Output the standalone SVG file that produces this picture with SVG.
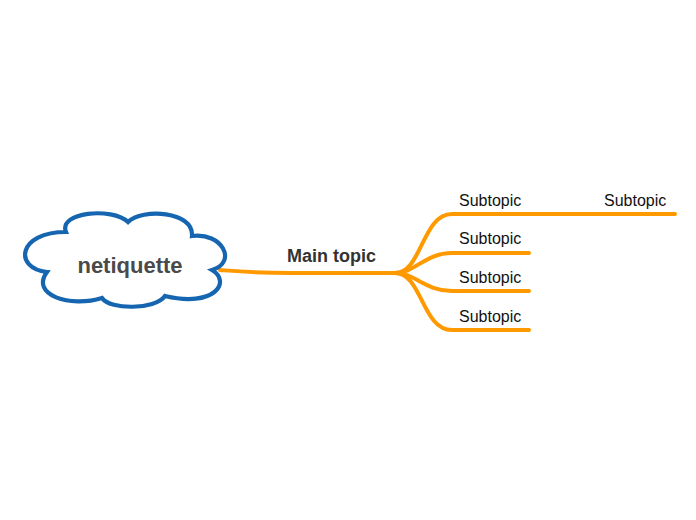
<svg xmlns="http://www.w3.org/2000/svg" width="696" height="520" viewBox="0 0 696 520">
<style>
.conn{fill:none;stroke:#ff9900;stroke-width:4;stroke-linecap:round}
.sub{font-family:"Liberation Sans",Arial,sans-serif;font-size:16px;fill:#111}
.main{font-family:"Liberation Sans",Arial,sans-serif;font-size:18px;font-weight:bold;fill:#333}
.root{font-family:"Liberation Sans",Arial,sans-serif;font-size:22px;font-weight:bold;fill:#4a4a4a}
</style>
<rect width="696" height="520" fill="#fff"/>
<g id="connectors">
<path class="conn" d="M 220 270 C 245 272 255 273 290 273 L 395 273"/>
<path class="conn" d="M 395 273 C 422 273 422 214 452 214 L 675 214"/>
<path class="conn" d="M 395 273 C 415 273 425 253 452 253 L 529 253"/>
<path class="conn" d="M 395 273 C 415 273 425 291 452 291 L 529 291"/>
<path class="conn" d="M 395 273 C 422 273 422 330 452 330 L 529 330"/>
</g>
<g id="root">
<path d="M 66 232 C 58 212 112 207 128 222 C 142 208 194 211 192 236 C 222 232 238 262 212 270 C 232 282 214 308 165 296 C 155 310 110 310 102 298 C 70 308 30 295 47 272 C 13 268 18 232 66 232 Z" fill="#fff" stroke="#1565b0" stroke-width="4.2"/>
<text class="root" x="130" y="273" text-anchor="middle">netiquette</text>
</g>
<g id="main"><text class="main" x="331.5" y="262" text-anchor="middle">Main topic</text></g>
<g id="sub1"><text class="sub" x="459" y="206">Subtopic</text></g>
<g id="sub1a"><text class="sub" x="604" y="206">Subtopic</text></g>
<g id="sub2"><text class="sub" x="459" y="244">Subtopic</text></g>
<g id="sub3"><text class="sub" x="459" y="283">Subtopic</text></g>
<g id="sub4"><text class="sub" x="459" y="322">Subtopic</text></g>
</svg>
